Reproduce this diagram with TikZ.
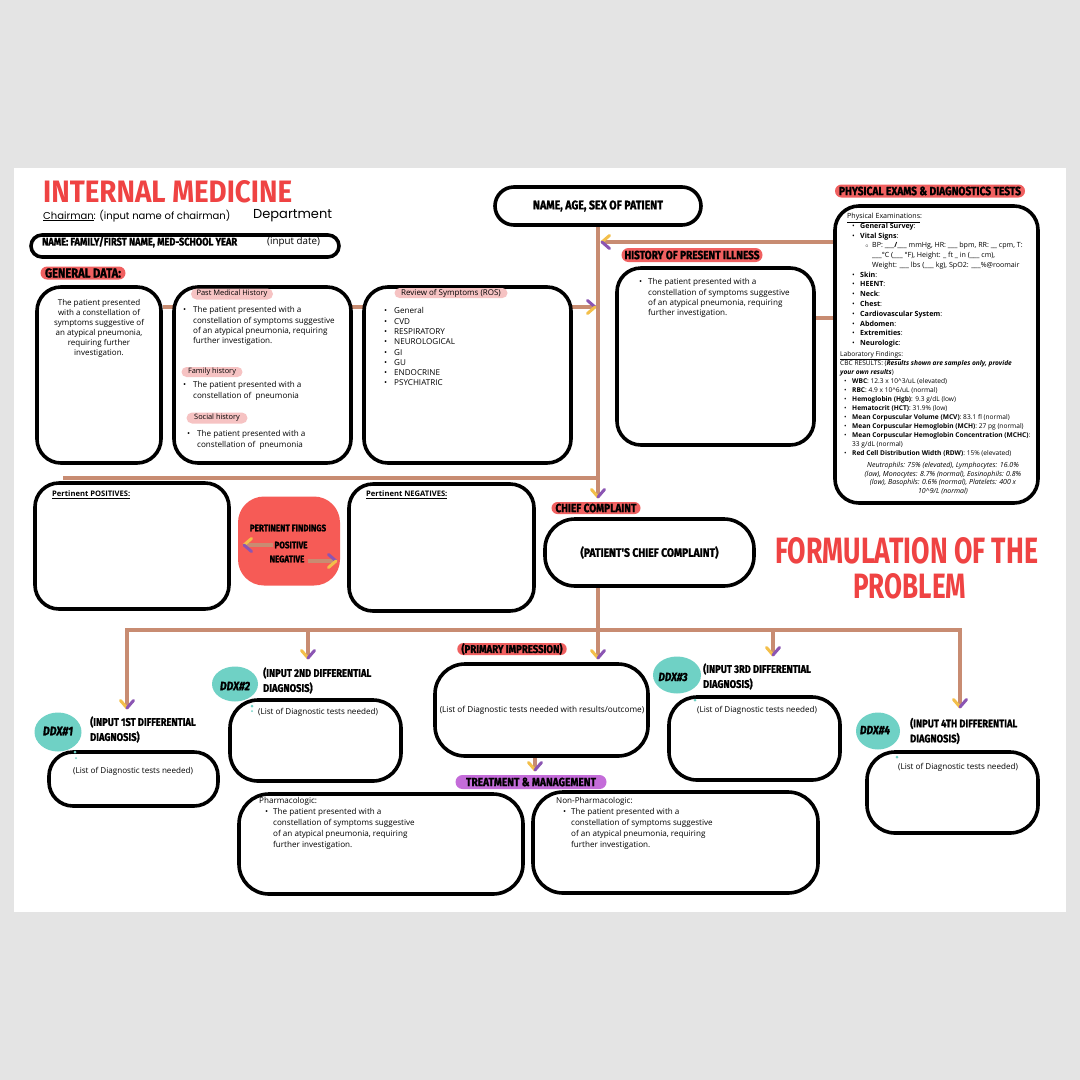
\documentclass[tikz,border=0pt]{standalone}
\usepackage{fontspec}
\setmainfont{Open Sans}
\newfontfamily\hdfont{Fira Sans}[FakeStretch=0.85, BoldFeatures={FakeBold=1.3}, BoldItalicFeatures={FakeBold=1.3}]
\newfontfamily\ttlfont{Fira Sans}[FakeStretch=0.85]
\newfontfamily\popfont{Poppins}
\usepackage{graphicx}
\usetikzlibrary{shapes.geometric,shapes.misc,calc}
\pgfdeclarelayer{bottom}
\pgfdeclarelayer{lines}
\pgfsetlayers{bottom,lines,main}
\definecolor{pagegrey}{HTML}{E4E4E4}
\definecolor{titlered}{HTML}{EF4343}
\definecolor{pillred}{HTML}{F06060}
\definecolor{pillpink}{HTML}{F6C3C3}
\definecolor{pillpurple}{HTML}{C46CD9}
\definecolor{ddxteal}{HTML}{6FD1C5}
\definecolor{findred}{HTML}{F65B56}
\definecolor{connc}{HTML}{C88C72}
\definecolor{tipyellow}{HTML}{F3BF4A}
\definecolor{tippurple}{HTML}{8B55B3}
\newcommand{\hd}[2]{\resizebox{#1}{!}{\hdfont\bfseries #2}}
\newcommand{\pbul}[2]{\hspace*{#1}\makebox[#2][l]{\textbullet}}
\newcommand{\tipD}[1]{%
  \draw[tipstyle,tipyellow] (#1) ++(-6.5,-7.5) -- (#1);
  \draw[tipstyle,tippurple] (#1) ++(6.5,-7.5) -- (#1);}
\newcommand{\tipL}[1]{%
  \draw[tipstyle,tipyellow] (#1) ++(7.5,-6.5) -- (#1);
  \draw[tipstyle,tippurple] (#1) ++(7.5,6.5) -- (#1);}
\newcommand{\tipR}[1]{%
  \draw[tipstyle,tippurple] (#1) ++(-7.5,-6.5) -- (#1);
  \draw[tipstyle,tipyellow] (#1) ++(-7.5,6.5) -- (#1);}
\begin{document}
\begin{tikzpicture}[x=1pt,y=-1pt,
  card/.style={draw=black, line width=3.6pt, fill=white, rounded corners=24pt, inner sep=0pt},
  pill/.style={rounded rectangle, inner sep=0pt},
  link/.style={draw=connc, line width=3.4pt},
  tipstyle/.style={line width=3pt, line cap=round},
  txt/.style={inner sep=0pt, align=left, font=\fontsize{8.1}{10.3}\selectfont},
  small/.style={inner sep=0pt, font=\fontsize{8.1}{9}\selectfont},
  ddxt/.style={anchor=west, inner sep=0pt, align=left, font=\hdfont\bfseries\fontsize{11}{15}\selectfont},
  blob/.style={ellipse, fill=ddxteal, inner sep=0pt},
  dot/.style={circle, fill=ddxteal, inner sep=0pt, minimum size=3pt}]
\useasboundingbox (0,0) rectangle (1080,1080);
\begin{pgfonlayer}{bottom}
\fill[pagegrey] (0,0) rectangle (1080,1080);
\fill[white] (14,168) rectangle (1066,912);
\end{pgfonlayer}

% ---------- titles ----------
\node[anchor=north west, inner sep=0pt, text=titlered] (title) at (43,180)
  {\resizebox{249pt}{22pt}{\ttlfont\bfseries INTERNAL MEDICINE}};
\node[anchor=base west, inner sep=0pt, font=\popfont\fontsize{10}{12}\selectfont] (chair) at (43,219)
  {\underline{Chairman}: (input name of chairman)};
\node[anchor=base west, inner sep=0pt, font=\popfont\fontsize{13}{15}\selectfont] (dept) at (253,218) {Department};
\node[anchor=north west, inner sep=0pt, text=titlered] (form1) at (775,537)
  {\resizebox{263pt}{26pt}{\ttlfont\bfseries FORMULATION OF THE}};
\node[anchor=north west, inner sep=0pt, text=titlered] (form2) at (853,573)
  {\resizebox{113pt}{25pt}{\ttlfont\bfseries PROBLEM}};

% ---------- header boxes ----------
\node[card, rounded corners=11pt, minimum width=308pt, minimum height=22pt] (namebox) at (185,246) {};
\node[anchor=west, inner sep=0pt] (nametxt) at (42,242) {\hd{195pt}{NAME: FAMILY/FIRST NAME, MED-SCHOOL YEAR}};
\node[anchor=west, inner sep=0pt, font=\fontsize{9.8}{11}\selectfont] (datetxt) at (267,242) {(input date)};
\node[card, rounded corners=19pt, minimum width=206pt, minimum height=38pt] (patient) at (598,206)
  {\hd{130pt}{NAME, AGE, SEX OF PATIENT}};

% ---------- labels ----------
\node[pill, fill=pillred, minimum width=85pt, minimum height=13pt] (gdl) at (83,273) {\hd{76pt}{GENERAL DATA:}};
\node[pill, fill=pillred, minimum width=141pt, minimum height=14pt] (hpil) at (692,255) {\hd{135pt}{HISTORY OF PRESENT ILLNESS}};
\node[pill, fill=pillred, minimum width=190pt, minimum height=13pt] (pel) at (930,191) {\hd{182pt}{PHYSICAL EXAMS \& DIAGNOSTICS TESTS}};

% ---------- general data boxes ----------
\node[card, minimum width=124pt, minimum height=176pt] (gen) at (99,375) {};
\node[txt, align=center, anchor=north, font=\fontsize{8}{10}\selectfont] (gentxt) at (99,299.5)
  {The patient presented\\with a constellation of\\symptoms suggestive of\\an atypical pneumonia,\\requiring further\\investigation.};
\node[card, minimum width=177pt, minimum height=176pt] (hist) at (262.5,375) {};
\node[pill, fill=pillpink, minimum width=82pt, minimum height=11pt, font=\fontsize{7.5}{8}\selectfont] (pmhl) at (232,294) {Past Medical History};
\node[txt, anchor=north west] (pmhtxt) at (183,306.5)
  {\pbul{0pt}{10pt}The patient presented with a\\\hspace*{10pt}constellation of symptoms suggestive\\\hspace*{10pt}of an atypical pneumonia, requiring\\\hspace*{10pt}further investigation.};
\node[pill, fill=pillpink, minimum width=61pt, minimum height=10pt, font=\fontsize{7.4}{8}\selectfont] (faml) at (212,372) {Family history};
\node[txt, anchor=north west] (famtxt) at (183,381.5)
  {\pbul{0pt}{10pt}The patient presented with a\\\hspace*{10pt}constellation of\ \ pneumonia};
\node[pill, fill=pillpink, minimum width=61pt, minimum height=11pt, font=\fontsize{7.4}{8}\selectfont] (socl) at (217,418) {Social history};
\node[txt, anchor=north west] (soctxt) at (187,430.5)
  {\pbul{0pt}{10pt}The patient presented with a\\\hspace*{10pt}constellation of\ \ pneumonia};
\node[card, minimum width=207pt, minimum height=176pt] (ros) at (467.5,375) {};
\node[pill, fill=pillpink, minimum width=113pt, minimum height=10pt, font=\fontsize{8}{9}\selectfont] (rosl) at (451,293) {Review of Symptoms (ROS)};
\node[txt, anchor=north west] (rostxt) at (384,307.5)
  {\pbul{0pt}{10pt}General\\\pbul{0pt}{10pt}CVD\\\pbul{0pt}{10pt}RESPIRATORY\\\pbul{0pt}{10pt}NEUROLOGICAL\\\pbul{0pt}{10pt}GI\\\pbul{0pt}{10pt}GU\\\pbul{0pt}{10pt}ENDOCRINE\\\pbul{0pt}{10pt}PSYCHIATRIC};
\node[card, minimum width=197pt, minimum height=177pt] (hpi) at (715.5,356.5) {};
\node[txt, anchor=north west] (hpitxt) at (639,278.5)
  {\pbul{0pt}{9pt}The patient presented with a\\\hspace*{9pt}constellation of symptoms suggestive\\\hspace*{9pt}of an atypical pneumonia, requiring\\\hspace*{9pt}further investigation.};

% ---------- physical exam box ----------
\node[card, minimum width=203pt, minimum height=297pt] (pe) at (936.5,354.5) {};
\node[txt, anchor=north west, font=\fontsize{7.1}{9.77}\selectfont] (petxt) at (847,213)
  {\underline{Physical Examinations}:\\
   \pbul{5pt}{8pt}\textbf{General Survey}:\\
   \pbul{5pt}{8pt}\textbf{Vital Signs}:\\
   \hspace*{18pt}\makebox[7pt][l]{$\scriptstyle\circ$}BP: \_\_\_\textbf{/}\_\_\_ mmHg, HR: \_\_\_ bpm, RR: \_\_ cpm, T:\\
   \hspace*{25pt}\_\_\_°C (\_\_\_ °F), Height: \_ ft \_ in (\_\_\_ cm),\\
   \hspace*{25pt}Weight: \_\_\_ lbs (\_\_\_ kg), SpO2: \_\_\_\%@roomair\\
   \pbul{5pt}{8pt}\textbf{Skin}:\\
   \pbul{5pt}{8pt}\textbf{HEENT}:\\
   \pbul{5pt}{8pt}\textbf{Neck}:\\
   \pbul{5pt}{8pt}\textbf{Chest}:\\
   \pbul{5pt}{8pt}\textbf{Cardiovascular System}:\\
   \pbul{5pt}{8pt}\textbf{Abdomen}:\\
   \pbul{5pt}{8pt}\textbf{Extremities}:\\
   \pbul{5pt}{8pt}\textbf{Neurologic}:};
\node[txt, anchor=north west, font=\fontsize{6.6}{9}\selectfont] (labtxt) at (840,351)
  {\underline{Laboratory Findings}:\\
   CBC RESULTS: (\textbf{\itshape Results shown are samples only, provide}\\
   \textbf{\itshape your own results})\\
   \pbul{4pt}{8pt}\textbf{WBC}: 12.3 x 10\textasciicircum3/uL (elevated)\\
   \pbul{4pt}{8pt}\textbf{RBC}: 4.9 x 10\textasciicircum6/uL (normal)\\
   \pbul{4pt}{8pt}\textbf{Hemoglobin (Hgb)}: 9.3 g/dL (low)\\
   \pbul{4pt}{8pt}\textbf{Hematocrit (HCT)}: 31.9\% (low)\\
   \pbul{4pt}{8pt}\textbf{Mean Corpuscular Volume (MCV)}: 83.1 fl (normal)\\
   \pbul{4pt}{8pt}\textbf{Mean Corpuscular Hemoglobin (MCH)}: 27 pg (normal)\\
   \pbul{4pt}{8pt}\textbf{Mean Corpuscular Hemoglobin Concentration (MCHC)}:\\
   \hspace*{12pt}33 g/dL (normal)\\
   \pbul{4pt}{8pt}\textbf{Red Cell Distribution Width (RDW)}: 15\% (elevated)};
\node[inner sep=0pt, align=center, anchor=north, font=\itshape\fontsize{7}{8.7}\selectfont] (difftxt) at (943,462)
  {Neutrophils: 75\% (elevated), Lymphocytes: 16.0\%\\(low), Monocytes: 8.7\% (normal), Eosinophils: 0.8\%\\(low), Basophils: 0.6\% (normal), Platelets: 400 x\\10\textasciicircum9/L (normal)};

% ---------- pertinent findings ----------
\node[card, minimum width=194pt, minimum height=126pt] (pos) at (132,546) {};
\node[anchor=west, inner sep=0pt, font=\bfseries\fontsize{7.6}{9}\selectfont] (postxt) at (52,495) {\underline{Pertinent POSITIVES:}};
\node[card, minimum width=185pt, minimum height=127pt] (neg) at (441.5,547.5) {};
\node[anchor=west, inner sep=0pt, font=\bfseries\fontsize{7.6}{9}\selectfont] (negtxt) at (366,495) {\underline{Pertinent NEGATIVES:}};
\node[fill=findred, rounded corners=26pt, minimum width=102pt, minimum height=89pt, inner sep=0pt] (find) at (289,541) {};
\node[inner sep=0pt, font=\hdfont\bfseries\fontsize{9.5}{10}\selectfont] (findt) at (288,528) {PERTINENT FINDINGS};
\node[inner sep=0pt, font=\hdfont\bfseries\fontsize{9.5}{10}\selectfont] (findp) at (291,545) {POSITIVE};
\node[inner sep=0pt, font=\hdfont\bfseries\fontsize{9.5}{10}\selectfont] (findn) at (287,559) {NEGATIVE};
\coordinate (pfls) at (273,545);
\coordinate (pfl) at (244,545);
\coordinate (pfrs) at (308,561);
\coordinate (pfr) at (336,561);
\draw[link] (pfls) -- (pfl);
\draw[link] (pfrs) -- (pfr);

% ---------- chief complaint ----------
\node[pill, fill=pillred, minimum width=89pt, minimum height=12pt] (ccl) at (596,508) {\hd{81pt}{CHIEF COMPLAINT}};
\node[card, rounded corners=30pt, minimum width=209pt, minimum height=67pt] (cc) at (649.5,552.5)
  {\hd{138pt}{(PATIENT'S CHIEF COMPLAINT)}};

% ---------- primary impression ----------
\node[pill, fill=pillred, minimum width=105pt, minimum height=12pt] (pil) at (512,649) {\hd{101pt}{(PRIMARY IMPRESSION)}};
\node[card, rounded corners=30pt, minimum width=213pt, minimum height=92pt] (pi) at (541.5,710) {};
\node[inner sep=0pt, font=\fontsize{8.2}{9}\selectfont] (pitxt) at (542,710) {(List of Diagnostic tests needed with results/outcome)};

% ---------- differentials ----------
\node[card, minimum width=169pt, minimum height=54pt] (ddx1) at (133.5,779) {};
\node[blob, minimum width=47pt, minimum height=39pt] (b1) at (58,732) {};
\node[inner sep=0pt] (b1t) at (58,731) {\hd{30pt}{\itshape DDX\#1}};
\node[dot] (b1d1) at (75,752) {};
\node[dot, minimum size=2pt] (b1d2) at (76,758) {};
\node[ddxt] (d1t) at (90,729.5) {(INPUT 1ST DIFFERENTIAL\\DIAGNOSIS)};
\node[small, anchor=west] (d1l) at (73,771) {(List of Diagnostic tests needed)};

\node[card, rounded corners=28pt, minimum width=171pt, minimum height=81pt] (ddx2) at (315.5,740.5) {};
\node[blob, minimum width=46pt, minimum height=35pt] (b2) at (235,684) {};
\node[inner sep=0pt] (b2t) at (235,686) {\hd{30pt}{\itshape DDX\#2}};
\node[dot] (b2d1) at (252,706) {};
\node[dot, minimum size=2pt] (b2d2) at (252,711) {};
\node[ddxt] (d2t) at (263,680.5) {(INPUT 2ND DIFFERENTIAL\\DIAGNOSIS)};
\node[small, anchor=west] (d2l) at (258,712) {(List of Diagnostic tests needed)};

\node[card, rounded corners=28pt, minimum width=171pt, minimum height=83pt] (ddx3) at (754.5,738.5) {};
\node[blob, minimum width=48pt, minimum height=37pt] (b3) at (677,675) {};
\node[inner sep=0pt] (b3t) at (673,677) {\hd{29pt}{\itshape DDX\#3}};
\node[dot] (b3d1) at (695,700) {};
\node[ddxt] (d3t) at (703,676.5) {(INPUT 3RD DIFFERENTIAL\\DIAGNOSIS)};
\node[small, anchor=west] (d3l) at (697,710) {(List of Diagnostic tests needed)};

\node[card, rounded corners=28pt, minimum width=171pt, minimum height=81pt] (ddx4) at (952.5,792.5) {};
\node[blob, minimum width=44pt, minimum height=37pt] (b4) at (878,731) {};
\node[inner sep=0pt] (b4t) at (875,730) {\hd{30pt}{\itshape DDX\#4}};
\node[dot] (b4d1) at (897,757) {};
\node[ddxt] (d4t) at (910,731) {(INPUT 4TH DIFFERENTIAL\\DIAGNOSIS)};
\node[small, anchor=west] (d4l) at (898,767) {(List of Diagnostic tests needed)};

% ---------- treatment ----------
\node[pill, fill=pillpurple, minimum width=151pt, minimum height=14pt] (tml) at (531,782) {\hd{130pt}{TREATMENT \& MANAGEMENT}};
\node[card, rounded corners=30pt, minimum width=284pt, minimum height=100pt] (pharm) at (381,844) {};
\node[txt, anchor=north west, font=\fontsize{8.1}{11}\selectfont] (pharmtxt) at (259,797.5)
  {Pharmacologic:\\\pbul{6pt}{8pt}The patient presented with a\\\hspace*{14pt}constellation of symptoms suggestive\\\hspace*{14pt}of an atypical pneumonia, requiring\\\hspace*{14pt}further investigation.};
\node[card, rounded corners=30pt, minimum width=285pt, minimum height=101pt] (npharm) at (675.5,842.5) {};
\node[txt, anchor=north west, font=\fontsize{8.1}{11}\selectfont] (npharmtxt) at (556,797.5)
  {Non-Pharmacologic:\\\pbul{7pt}{8pt}The patient presented with a\\\hspace*{15pt}constellation of symptoms suggestive\\\hspace*{15pt}of an atypical pneumonia, requiring\\\hspace*{15pt}further investigation.};

% ---------- connectors ----------
\coordinate (tcc) at (598,497);
\coordinate (tpe) at (602,242);
\coordinate (tros) at (595,307);
\coordinate (pelink) at (825,318);
\coordinate (pfstart) at (63,478);
\coordinate (tpi) at (598,658);
\coordinate (jl) at (127,630);
\coordinate (jr) at (960,630);
\coordinate (td1) at (127,708);
\coordinate (td2) at (308,658);
\coordinate (td3) at (773,655);
\coordinate (td4) at (960,707);
\coordinate (ttm) at (535,770);
\begin{pgfonlayer}{lines}
\draw[link] (patient.south) -- (tcc);
\draw[link] (pe.west |- tpe) -- (tpe);
\draw[link] (gen.east |- tros) -- (tros);
\draw[link] (hpi.east |- pelink) -- (pe.west |- pelink);
\draw[link] (pfstart) -- (pfstart -| tcc);
\draw[link] (cc.south -| tpi) -- (tpi);
\draw[link] (td1) -- (jl) -- (jr) -- (td4);
\draw[link] (td2 |- jl) -- (td2);
\draw[link] (td3 |- jl) -- (td3);
\draw[link] (pi.south -| ttm) -- (ttm);
\end{pgfonlayer}
\tipD{tcc}
\tipL{tpe}
\tipR{tros}
\tipD{tpi}
\tipD{td1}
\tipD{td2}
\tipD{td3}
\tipD{td4}
\tipD{ttm}
\tipL{pfl}
\tipR{pfr}
\end{tikzpicture}
\end{document}
